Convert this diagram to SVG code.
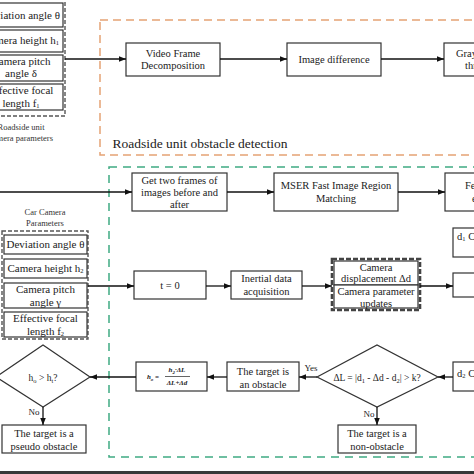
<svg xmlns="http://www.w3.org/2000/svg" width="474" height="474" viewBox="0 0 474 474">
<style>
.bx{fill:#fff;stroke:#333;stroke-width:1.2}
.t{font-family:"Liberation Serif","Times New Roman",serif;font-size:10.5px;fill:#222;text-anchor:middle;dominant-baseline:central}
.tp{font-family:"Liberation Serif","Times New Roman",serif;font-size:11px;fill:#222;text-anchor:middle;dominant-baseline:central}
.ts{font-family:"Liberation Serif","Times New Roman",serif;font-size:8.5px;fill:#333;text-anchor:middle;dominant-baseline:central}
.sb{font-size:6.5px}
.arr{stroke:#111;stroke-width:1.3;fill:none;marker-end:url(#ah)}
.gd{fill:none;stroke:#555;stroke-width:1.4;stroke-dasharray:4 2}
</style>
<defs>
<marker id="ah" viewBox="0 0 10 10" refX="10" refY="5" markerWidth="8" markerHeight="7" markerUnits="userSpaceOnUse" orient="auto"><path d="M0,1 L10,5 L0,9 z" fill="#111"/></marker>
</defs>
<rect width="474" height="474" fill="#fff"/>

<g id="roadside-frame">
<rect x="100" y="20" width="390" height="135" fill="none" stroke="#E5A274" stroke-width="1.5" stroke-dasharray="8 5"/>
<text x="200" y="143" style="font-family:'Liberation Serif','Times New Roman',serif;font-size:13.5px;fill:#222;text-anchor:middle;dominant-baseline:central">Roadside unit obstacle detection</text>
</g>
<g id="car-frame">
<rect x="109" y="167" width="390" height="290" fill="none" stroke="#3FAA82" stroke-width="1.5" stroke-dasharray="8 6"/>
</g>

<g id="roadside-params">
<rect x="-24" y="-5" width="89" height="121" class="gd"/>
<rect x="-21" y="3" width="84" height="24" class="bx"/>
<text x="21" y="15" class="tp">Deviation angle θ</text>
<rect x="-21" y="30" width="84" height="22" class="bx"/>
<text x="21" y="40" class="tp">Camera height h<tspan class="sb" dy="2">1</tspan></text>
<rect x="-21" y="55" width="84" height="26" class="bx"/>
<text x="21" y="61" class="tp">Camera pitch</text>
<text x="21" y="73" class="tp">angle δ</text>
<rect x="-21" y="84" width="84" height="26" class="bx"/>
<text x="21" y="90" class="tp">Effective focal</text>
<text x="21" y="103" class="tp">length f<tspan class="sb" dy="2">1</tspan></text>
<text x="21" y="127" class="ts">Roadside unit</text>
<text x="21" y="138" class="ts">camera parameters</text>
</g>

<g id="video-frame"><rect x="126" y="43" width="94" height="33" class="bx"/>
<text x="173" y="53" class="t">Video Frame</text><text x="173" y="65" class="t">Decomposition</text></g>
<g id="image-diff"><rect x="287" y="43" width="94" height="33" class="bx"/>
<text x="334" y="59" class="t">Image difference</text></g>
<g id="gray-thresh"><rect x="444" y="43" width="94" height="33" class="bx"/>
<text x="456" y="53" class="t" style="text-anchor:start">Grayscale image</text>
<text x="465" y="65" class="t" style="text-anchor:start">thresholding</text></g>

<g id="get-frames"><rect x="132" y="173" width="95" height="38" class="bx"/>
<text x="179.5" y="180" class="t">Get two frames of</text>
<text x="179.5" y="192" class="t">images before and</text>
<text x="179.5" y="204" class="t">after</text></g>
<g id="mser"><rect x="274" y="173" width="124" height="38" class="bx"/>
<text x="336" y="185" class="t">MSER Fast Image Region</text>
<text x="336" y="198" class="t">Matching</text></g>
<g id="feature"><rect x="445" y="173" width="95" height="38" class="bx"/>
<text x="465" y="185" class="t" style="text-anchor:start">Feature point</text>
<text x="472" y="198" class="t" style="text-anchor:start">extraction</text></g>
<g id="d1"><rect x="453" y="228" width="90" height="29" class="bx"/>
<text x="457" y="236" class="t" style="text-anchor:start">d<tspan class="sb" dy="2">1</tspan><tspan dy="-2"> Calculation</tspan></text></g>
<g id="right-mid"><rect x="453" y="273" width="90" height="24" class="bx"/></g>

<g id="car-params">
<text x="45" y="212" class="ts">Car Camera</text>
<text x="45" y="223" class="ts">Parameters</text>
<rect x="2" y="231" width="86" height="108" class="gd"/>
<rect x="4" y="235" width="83" height="19" class="bx"/>
<text x="45.5" y="244" class="tp">Deviation angle θ</text>
<rect x="4" y="259" width="83" height="19" class="bx"/>
<text x="45.5" y="268" class="tp">Camera height h<tspan class="sb" dy="2">2</tspan></text>
<rect x="4" y="283" width="83" height="25" class="bx"/>
<text x="45.5" y="289" class="tp">Camera pitch</text>
<text x="45.5" y="302" class="tp">angle γ</text>
<rect x="4" y="312" width="83" height="25" class="bx"/>
<text x="45.5" y="318" class="tp">Effective focal</text>
<text x="45.5" y="331" class="tp">length f<tspan class="sb" dy="2">2</tspan></text>
</g>

<g id="t0"><rect x="134" y="271" width="72" height="28" class="bx"/>
<text x="170" y="285" class="t">t = 0</text></g>
<g id="inertial"><rect x="231" y="271" width="71" height="28" class="bx"/>
<text x="266.5" y="278" class="t">Inertial data</text>
<text x="266.5" y="291" class="t">acquisition</text></g>
<g id="cam-disp">
<rect x="332" y="259" width="88" height="51" fill="#fff" stroke="#444" stroke-width="2.6" stroke-dasharray="5 2"/>
<rect x="334" y="261" width="84" height="24" class="bx"/>
<rect x="334" y="285" width="84" height="23" class="bx"/>
<text x="376" y="267" class="t">Camera</text>
<text x="376" y="278" class="t">displacement Δd</text>
<text x="376" y="291" class="t">Camera parameter</text>
<text x="376" y="303" class="t">updates</text>
</g>

<g id="d2"><rect x="453" y="362" width="90" height="29" class="bx"/>
<text x="457" y="373" class="t" style="text-anchor:start">d<tspan class="sb" dy="2">2</tspan><tspan dy="-2"> Calculation</tspan></text></g>
<g id="dl-decision"><path d="M317,377 L377,345 L438,377 L377,407 Z" class="bx"/>
<text x="377" y="378" class="t" style="font-size:9.5px">ΔL = |d<tspan class="sb" dy="2">1</tspan><tspan dy="-2"> - Δd - d</tspan><tspan class="sb" dy="2">2</tspan><tspan dy="-2">| &gt; k?</tspan></text></g>
<g id="non-obstacle"><rect x="338" y="425" width="78" height="28" class="bx"/>
<text x="377" y="433" class="t">The target is a</text>
<text x="377" y="446" class="t">non-obstacle</text></g>
<g id="obstacle"><rect x="227" y="362" width="72" height="29" class="bx"/>
<text x="263" y="371" class="t">The target is</text>
<text x="263" y="384" class="t">an obstacle</text></g>
<g id="formula"><rect x="136" y="362" width="71" height="29" class="bx"/>
<g style="font-family:'Liberation Serif','Times New Roman',serif;font-weight:bold;font-style:italic;font-size:7px;fill:#222;dominant-baseline:central">
<text x="153" y="377" text-anchor="middle">h<tspan font-size="5" dy="1.5">o</tspan><tspan dy="-1.5"> =</tspan></text>
<text x="177" y="370" text-anchor="middle">h<tspan font-size="5" dy="1.5">2</tspan><tspan dy="-1.5">·ΔL</tspan></text>
<text x="177" y="383" text-anchor="middle">ΔL+Δd</text>
</g>
<line x1="165" y1="376.5" x2="190" y2="376.5" stroke="#222" stroke-width="0.7"/>
</g>
<g id="h-decision"><path d="M-4,377 L43,345 L90,377 L43,407 Z" class="bx"/>
<text x="43" y="378" class="t" style="font-size:9.5px">h<tspan class="sb" dy="2">o</tspan><tspan dy="-2"> &gt; h</tspan><tspan class="sb" dy="2">t</tspan><tspan dy="-2">?</tspan></text></g>
<g id="pseudo"><rect x="2" y="425" width="84" height="28" class="bx"/>
<text x="44" y="433" class="t">The target is a</text>
<text x="44" y="446" class="t">pseudo obstacle</text></g>

<g id="connectors">
<line x1="65" y1="59" x2="126" y2="59" class="arr"/>
<line x1="220" y1="59" x2="287" y2="59" class="arr"/>
<line x1="381" y1="59" x2="444" y2="59" class="arr"/>
<line x1="0" y1="192" x2="132" y2="192" class="arr"/>
<line x1="227" y1="192" x2="274" y2="192" class="arr"/>
<line x1="398" y1="192" x2="445" y2="192" class="arr"/>
<line x1="88" y1="286" x2="134" y2="286" class="arr"/>
<line x1="206" y1="286" x2="231" y2="286" class="arr"/>
<line x1="302" y1="286" x2="332" y2="286" class="arr"/>
<line x1="420" y1="286" x2="453" y2="286" class="arr"/>
<line x1="453" y1="377" x2="438" y2="377" class="arr"/>
<line x1="317" y1="377" x2="299" y2="377" class="arr"/>
<line x1="227" y1="377" x2="207" y2="377" class="arr"/>
<line x1="136" y1="377" x2="90" y2="377" class="arr"/>
<line x1="377" y1="407" x2="377" y2="425" class="arr"/>
<line x1="43" y1="407" x2="43" y2="425" class="arr"/>
<text x="311" y="368" class="t" style="font-size:9px">Yes</text>
<text x="369" y="414" class="t" style="font-size:9px">No</text>
<text x="34" y="412" class="t" style="font-size:9px">No</text>
</g>
<rect x="0" y="471" width="474" height="3" fill="#3a3a3a"/>
</svg>
